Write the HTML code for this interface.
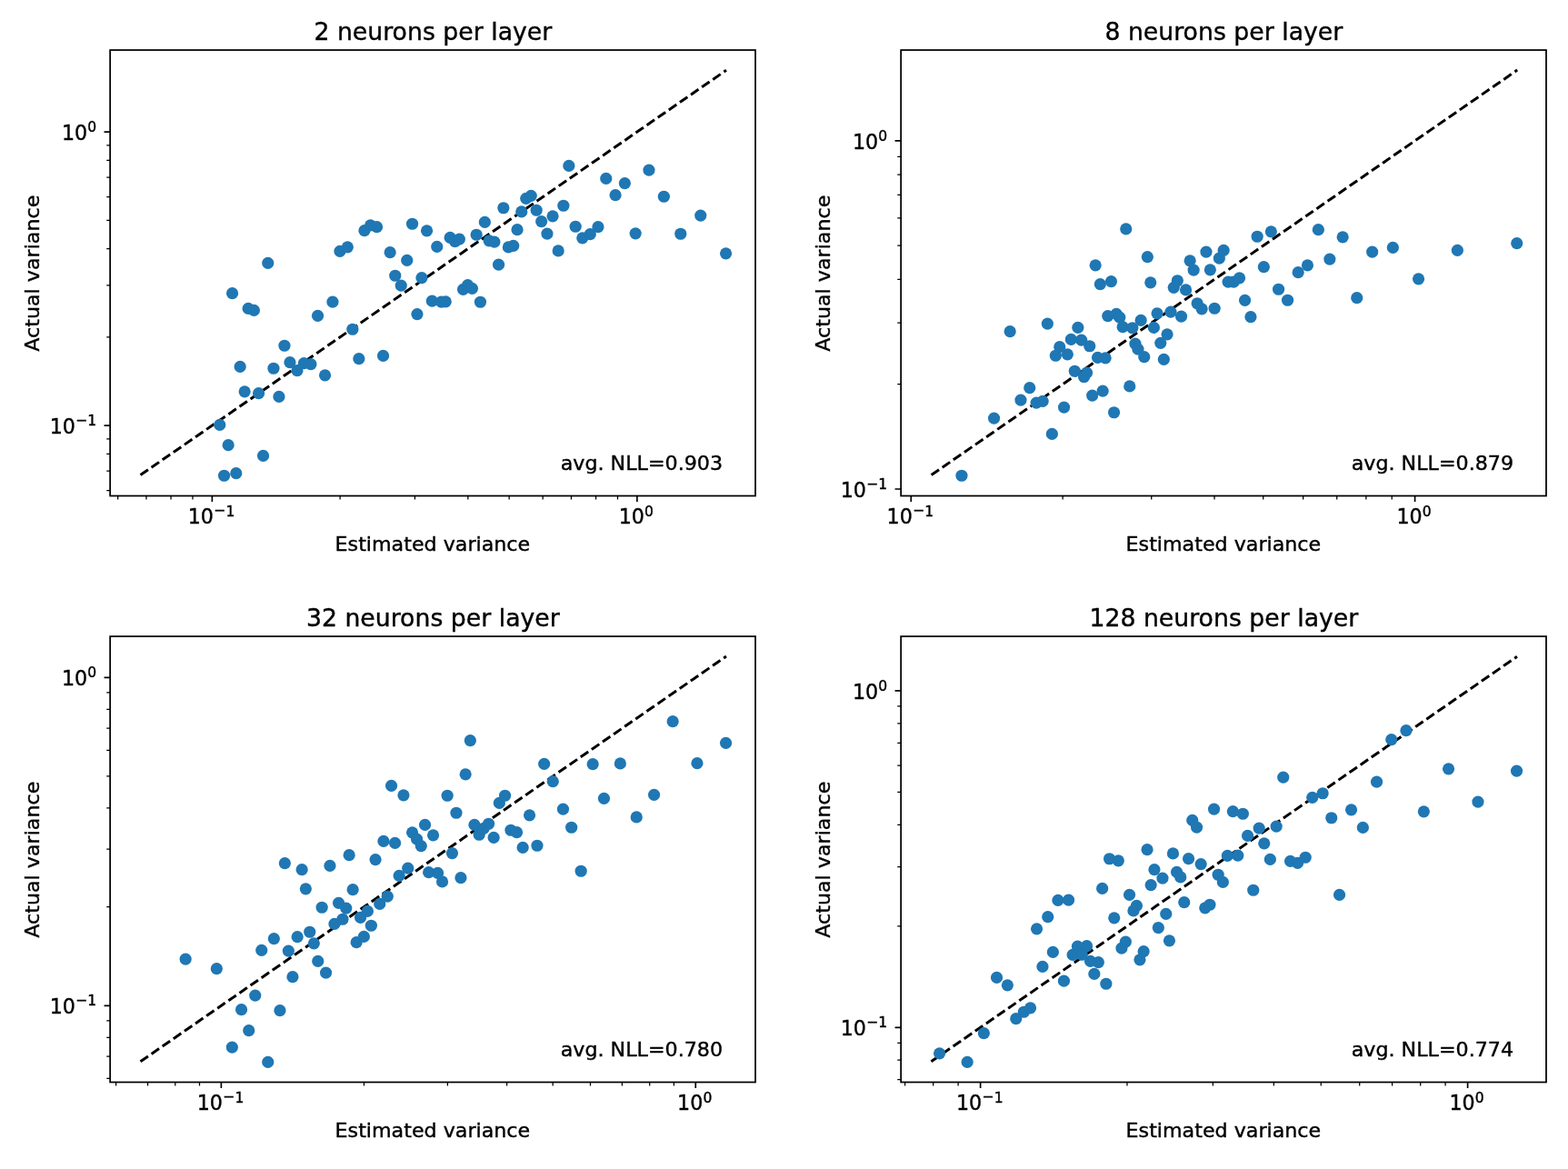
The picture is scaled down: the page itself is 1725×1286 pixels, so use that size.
<!DOCTYPE html>
<html lang="en"><head><meta charset="utf-8"><title>Estimated vs actual variance</title>
<style>
html,body{margin:0;padding:0;background:#fff;}
body{width:1725px;height:1286px;overflow:hidden;}
svg{display:block;position:absolute;left:0;top:0;}
text{font-family:"DejaVu Sans","Liberation Sans",sans-serif;fill:#000;stroke:#000;stroke-width:0.4px;}
.t{font-size:26.67px;letter-spacing:0.03px;}
.l{font-size:22.2px;}
.s{font-size:15.55px;}
.sp{fill:none;stroke:#000;stroke-width:1.75;stroke-linejoin:miter;}
.mj{stroke:#000;stroke-width:1.65;fill:none;}
.mn{stroke:#000;stroke-width:1.25;fill:none;}
.dl{stroke:#000;stroke-width:3;stroke-dasharray:10.28 4.44;fill:none;stroke-linecap:butt;}
.d circle{fill:#1f77b4;}
</style></head><body>
<svg width="1725" height="1286" viewBox="0 0 1725 1286">
<rect x="0" y="0" width="1725" height="1286" fill="#fff"/>
<g id="TL">
<path class="dl" d="M154.5 522.59L799 77.26"/>
<g class="d">
<circle cx="241.75" cy="467.45" r="6.6"/><circle cx="246.55" cy="523.25" r="6.6"/><circle cx="251.15" cy="489.65" r="6.6"/><circle cx="255.55" cy="322.65" r="6.6"/><circle cx="259.75" cy="520.65" r="6.6"/><circle cx="264.15" cy="403.45" r="6.6"/><circle cx="269.15" cy="430.85" r="6.6"/><circle cx="273.15" cy="339.45" r="6.6"/><circle cx="279.35" cy="341.45" r="6.6"/><circle cx="284.55" cy="432.65" r="6.6"/><circle cx="289.55" cy="501.45" r="6.6"/><circle cx="294.75" cy="289.45" r="6.6"/><circle cx="300.95" cy="405.25" r="6.6"/><circle cx="306.95" cy="436.45" r="6.6"/><circle cx="312.95" cy="380.25" r="6.6"/><circle cx="318.95" cy="398.65" r="6.6"/><circle cx="326.95" cy="407.65" r="6.6"/><circle cx="334.35" cy="399.65" r="6.6"/><circle cx="341.95" cy="400.65" r="6.6"/><circle cx="349.55" cy="347.35" r="6.6"/><circle cx="357.55" cy="412.85" r="6.6"/><circle cx="365.95" cy="332.15" r="6.6"/><circle cx="373.95" cy="276.45" r="6.6"/><circle cx="382.35" cy="271.85" r="6.6"/><circle cx="387.85" cy="362.25" r="6.6"/><circle cx="394.85" cy="394.65" r="6.6"/><circle cx="400.95" cy="253.65" r="6.6"/><circle cx="407.55" cy="247.85" r="6.6"/><circle cx="414.55" cy="249.65" r="6.6"/><circle cx="421.55" cy="391.45" r="6.6"/><circle cx="429.15" cy="277.65" r="6.6"/><circle cx="434.75" cy="303.25" r="6.6"/><circle cx="441.25" cy="314.05" r="6.6"/><circle cx="447.75" cy="286.45" r="6.6"/><circle cx="453.55" cy="246.25" r="6.6"/><circle cx="458.95" cy="345.55" r="6.6"/><circle cx="463.95" cy="305.55" r="6.6"/><circle cx="469.55" cy="253.85" r="6.6"/><circle cx="475.35" cy="331.15" r="6.6"/><circle cx="480.75" cy="271.45" r="6.6"/><circle cx="485.55" cy="332.05" r="6.6"/><circle cx="490.25" cy="331.85" r="6.6"/><circle cx="495.15" cy="261.45" r="6.6"/><circle cx="500.55" cy="265.65" r="6.6"/><circle cx="505.35" cy="263.05" r="6.6"/><circle cx="509.55" cy="318.45" r="6.6"/><circle cx="514.55" cy="313.65" r="6.6"/><circle cx="519.45" cy="317.35" r="6.6"/><circle cx="524.15" cy="258.25" r="6.6"/><circle cx="528.45" cy="332.25" r="6.6"/><circle cx="533.35" cy="244.45" r="6.6"/><circle cx="538.15" cy="264.85" r="6.6"/><circle cx="543.85" cy="266.15" r="6.6"/><circle cx="548.55" cy="291.15" r="6.6"/><circle cx="553.85" cy="228.75" r="6.6"/><circle cx="559.35" cy="271.95" r="6.6"/><circle cx="564.75" cy="270.35" r="6.6"/><circle cx="569.05" cy="252.65" r="6.6"/><circle cx="573.75" cy="232.95" r="6.6"/><circle cx="578.75" cy="218.35" r="6.6"/><circle cx="584.25" cy="215.35" r="6.6"/><circle cx="590.15" cy="231.25" r="6.6"/><circle cx="595.65" cy="243.55" r="6.6"/><circle cx="601.95" cy="257.05" r="6.6"/><circle cx="608.05" cy="237.85" r="6.6"/><circle cx="614.15" cy="275.95" r="6.6"/><circle cx="619.85" cy="226.25" r="6.6"/><circle cx="625.85" cy="182.45" r="6.6"/><circle cx="633.15" cy="249.25" r="6.6"/><circle cx="640.75" cy="261.85" r="6.6"/><circle cx="649.25" cy="257.65" r="6.6"/><circle cx="657.95" cy="249.65" r="6.6"/><circle cx="666.75" cy="196.45" r="6.6"/><circle cx="677.05" cy="214.65" r="6.6"/><circle cx="687.35" cy="201.65" r="6.6"/><circle cx="699.15" cy="256.85" r="6.6"/><circle cx="713.95" cy="187.05" r="6.6"/><circle cx="730.35" cy="216.25" r="6.6"/><circle cx="748.75" cy="257.25" r="6.6"/><circle cx="770.75" cy="237.05" r="6.6"/><circle cx="798.55" cy="278.85" r="6.6"/>
</g>
<path class="mj" d="M233.37 545.5v6.6M700.87 545.5v6.6M121.15 468.05h-6.6M121.15 145.05h-6.6"/>
<path class="mn" d="M129.66 545.5v3.9M160.95 545.5v3.9M188.06 545.5v3.9M211.98 545.5v3.9M374.1 545.5v3.9M456.42 545.5v3.9M514.83 545.5v3.9M560.14 545.5v3.9M597.16 545.5v3.9M628.45 545.5v3.9M655.56 545.5v3.9M679.48 545.5v3.9M121.15 539.71h-3.9M121.15 518.08h-3.9M121.15 499.35h-3.9M121.15 482.83h-3.9M121.15 370.82h-3.9M121.15 313.94h-3.9M121.15 273.58h-3.9M121.15 242.28h-3.9M121.15 216.71h-3.9M121.15 195.08h-3.9M121.15 176.35h-3.9M121.15 159.83h-3.9"/>
<rect class="sp" x="121.15" y="55.07" width="709.85" height="490.43"/>
<text class="l" transform="translate(206.72 575.8) scale(1 1.02)">10</text><text class="s" transform="translate(235.36 567.6) scale(1 1.05)"><tspan dy="-0.25">−</tspan><tspan dy="0.25">1</tspan></text>
<text class="l" transform="translate(680.72 575.8) scale(1 1.02)">10</text><text class="s" transform="translate(709.06 567.6) scale(1 1.05)">0</text>
<text class="l" transform="translate(54.7 476.7) scale(1 1.02)">10</text><text class="s" transform="translate(83.34 468.05) scale(1 1.05)"><tspan dy="-0.25">−</tspan><tspan dy="0.25">1</tspan></text>
<text class="l" transform="translate(67.9 153.7) scale(1 1.02)">10</text><text class="s" transform="translate(96.24 145.05) scale(1 1.05)">0</text>
<text class="t" transform="translate(476.32 44.32) scale(1 0.985)" text-anchor="middle">2 neurons per layer</text>
<text class="l" transform="translate(475.88 605.65) scale(1 0.99)" text-anchor="middle">Estimated variance</text>
<text class="l" transform="translate(42.6 300.69) rotate(-90) scale(1 0.99)" text-anchor="middle">Actual variance</text>
<text class="l" transform="translate(795.06 517) scale(1 0.99)" text-anchor="end">avg. NLL=0.903</text>
</g>
<g id="TR">
<path class="dl" d="M1024.6 522.59L1669.2 77.09"/>
<g class="d">
<circle cx="1057.95" cy="523.25" r="6.6"/><circle cx="1093.55" cy="460.05" r="6.6"/><circle cx="1111.15" cy="364.65" r="6.6"/><circle cx="1122.95" cy="440.05" r="6.6"/><circle cx="1132.75" cy="426.65" r="6.6"/><circle cx="1140.15" cy="443.05" r="6.6"/><circle cx="1147.15" cy="441.45" r="6.6"/><circle cx="1152.35" cy="356.05" r="6.6"/><circle cx="1157.35" cy="477.45" r="6.6"/><circle cx="1161.35" cy="391.25" r="6.6"/><circle cx="1165.75" cy="381.65" r="6.6"/><circle cx="1170.55" cy="448.05" r="6.6"/><circle cx="1174.35" cy="389.85" r="6.6"/><circle cx="1178.35" cy="373.45" r="6.6"/><circle cx="1182.35" cy="408.25" r="6.6"/><circle cx="1185.85" cy="360.35" r="6.6"/><circle cx="1189.65" cy="374.15" r="6.6"/><circle cx="1192.55" cy="414.65" r="6.6"/><circle cx="1195.55" cy="410.05" r="6.6"/><circle cx="1198.75" cy="380.75" r="6.6"/><circle cx="1201.65" cy="435.05" r="6.6"/><circle cx="1205.15" cy="291.85" r="6.6"/><circle cx="1207.55" cy="393.35" r="6.6"/><circle cx="1210.35" cy="312.65" r="6.6"/><circle cx="1213.15" cy="430.05" r="6.6"/><circle cx="1216.15" cy="393.85" r="6.6"/><circle cx="1218.75" cy="347.55" r="6.6"/><circle cx="1222.45" cy="309.55" r="6.6"/><circle cx="1225.55" cy="453.75" r="6.6"/><circle cx="1228.15" cy="345.45" r="6.6"/><circle cx="1231.75" cy="349.15" r="6.6"/><circle cx="1235.15" cy="359.65" r="6.6"/><circle cx="1238.75" cy="251.85" r="6.6"/><circle cx="1242.75" cy="424.95" r="6.6"/><circle cx="1245.85" cy="360.75" r="6.6"/><circle cx="1248.95" cy="378.15" r="6.6"/><circle cx="1251.95" cy="384.15" r="6.6"/><circle cx="1255.15" cy="352.45" r="6.6"/><circle cx="1258.75" cy="392.65" r="6.6"/><circle cx="1262.35" cy="282.65" r="6.6"/><circle cx="1265.75" cy="310.85" r="6.6"/><circle cx="1269.35" cy="360.45" r="6.6"/><circle cx="1273.05" cy="344.85" r="6.6"/><circle cx="1276.75" cy="377.35" r="6.6"/><circle cx="1280.35" cy="395.35" r="6.6"/><circle cx="1284.05" cy="367.85" r="6.6"/><circle cx="1287.95" cy="343.05" r="6.6"/><circle cx="1291.25" cy="316.35" r="6.6"/><circle cx="1295.35" cy="308.75" r="6.6"/><circle cx="1299.55" cy="348.05" r="6.6"/><circle cx="1304.55" cy="318.95" r="6.6"/><circle cx="1309.15" cy="286.85" r="6.6"/><circle cx="1313.15" cy="297.05" r="6.6"/><circle cx="1317.15" cy="333.75" r="6.6"/><circle cx="1322.15" cy="339.85" r="6.6"/><circle cx="1326.95" cy="277.05" r="6.6"/><circle cx="1331.35" cy="296.85" r="6.6"/><circle cx="1336.15" cy="339.25" r="6.6"/><circle cx="1341.35" cy="284.05" r="6.6"/><circle cx="1346.15" cy="275.45" r="6.6"/><circle cx="1351.15" cy="310.15" r="6.6"/><circle cx="1357.15" cy="310.15" r="6.6"/><circle cx="1363.55" cy="305.85" r="6.6"/><circle cx="1369.55" cy="330.35" r="6.6"/><circle cx="1375.95" cy="348.65" r="6.6"/><circle cx="1383.15" cy="260.25" r="6.6"/><circle cx="1390.35" cy="293.65" r="6.6"/><circle cx="1398.35" cy="254.85" r="6.6"/><circle cx="1406.55" cy="318.25" r="6.6"/><circle cx="1416.55" cy="330.25" r="6.6"/><circle cx="1428.15" cy="299.65" r="6.6"/><circle cx="1438.45" cy="291.85" r="6.6"/><circle cx="1450.35" cy="252.65" r="6.6"/><circle cx="1462.85" cy="285.05" r="6.6"/><circle cx="1477.15" cy="260.85" r="6.6"/><circle cx="1492.75" cy="327.65" r="6.6"/><circle cx="1509.65" cy="277.05" r="6.6"/><circle cx="1532.35" cy="272.45" r="6.6"/><circle cx="1560.55" cy="306.85" r="6.6"/><circle cx="1603.35" cy="275.45" r="6.6"/><circle cx="1668.75" cy="267.65" r="6.6"/>
</g>
<path class="mj" d="M1002.25 545.5v6.6M1556.6 545.5v6.6M991.15 538.02h-6.6M991.15 154.92h-6.6"/>
<path class="mn" d="M1169.13 545.5v3.9M1266.74 545.5v3.9M1336 545.5v3.9M1389.72 545.5v3.9M1433.62 545.5v3.9M1470.73 545.5v3.9M1502.88 545.5v3.9M1531.23 545.5v3.9M991.15 422.7h-3.9M991.15 355.23h-3.9M991.15 307.37h-3.9M991.15 270.24h-3.9M991.15 239.91h-3.9M991.15 214.26h-3.9M991.15 192.05h-3.9M991.15 172.45h-3.9"/>
<rect class="sp" x="991.15" y="55.07" width="709.85" height="490.43"/>
<text class="l" transform="translate(975.6 575.8) scale(1 1.02)">10</text><text class="s" transform="translate(1004.24 567.6) scale(1 1.05)"><tspan dy="-0.25">−</tspan><tspan dy="0.25">1</tspan></text>
<text class="l" transform="translate(1536.45 575.8) scale(1 1.02)">10</text><text class="s" transform="translate(1564.79 567.6) scale(1 1.05)">0</text>
<text class="l" transform="translate(924.7 546.67) scale(1 1.02)">10</text><text class="s" transform="translate(953.34 538.02) scale(1 1.05)"><tspan dy="-0.25">−</tspan><tspan dy="0.25">1</tspan></text>
<text class="l" transform="translate(937.9 163.57) scale(1 1.02)">10</text><text class="s" transform="translate(966.24 154.92) scale(1 1.05)">0</text>
<text class="t" transform="translate(1346.33 44.32) scale(1 0.985)" text-anchor="middle">8 neurons per layer</text>
<text class="l" transform="translate(1345.88 605.65) scale(1 0.99)" text-anchor="middle">Estimated variance</text>
<text class="l" transform="translate(912.6 300.69) rotate(-90) scale(1 0.99)" text-anchor="middle">Actual variance</text>
<text class="l" transform="translate(1665.06 517) scale(1 0.99)" text-anchor="end">avg. NLL=0.879</text>
</g>
<g id="BL">
<path class="dl" d="M154.5 1167.79L799 721.99"/>
<g class="d">
<circle cx="204.15" cy="1055.05" r="6.6"/><circle cx="238.35" cy="1065.65" r="6.6"/><circle cx="255.35" cy="1152.05" r="6.6"/><circle cx="265.55" cy="1110.65" r="6.6"/><circle cx="273.75" cy="1133.65" r="6.6"/><circle cx="280.75" cy="1095.05" r="6.6"/><circle cx="287.75" cy="1045.45" r="6.6"/><circle cx="294.75" cy="1168.45" r="6.6"/><circle cx="301.35" cy="1032.65" r="6.6"/><circle cx="307.95" cy="1111.65" r="6.6"/><circle cx="313.35" cy="949.65" r="6.6"/><circle cx="317.35" cy="1046.05" r="6.6"/><circle cx="321.95" cy="1074.65" r="6.6"/><circle cx="327.15" cy="1030.65" r="6.6"/><circle cx="332.15" cy="956.65" r="6.6"/><circle cx="336.35" cy="977.85" r="6.6"/><circle cx="340.75" cy="1025.25" r="6.6"/><circle cx="345.35" cy="1037.85" r="6.6"/><circle cx="349.75" cy="1057.45" r="6.6"/><circle cx="354.15" cy="998.25" r="6.6"/><circle cx="358.55" cy="1070.05" r="6.6"/><circle cx="362.95" cy="952.45" r="6.6"/><circle cx="367.95" cy="1016.45" r="6.6"/><circle cx="372.55" cy="993.45" r="6.6"/><circle cx="376.95" cy="1011.25" r="6.6"/><circle cx="380.75" cy="999.05" r="6.6"/><circle cx="384.15" cy="940.65" r="6.6"/><circle cx="388.15" cy="978.65" r="6.6"/><circle cx="392.15" cy="1036.65" r="6.6"/><circle cx="396.55" cy="1009.45" r="6.6"/><circle cx="400.35" cy="1030.45" r="6.6"/><circle cx="404.35" cy="1002.45" r="6.6"/><circle cx="408.35" cy="1018.25" r="6.6"/><circle cx="413.05" cy="945.55" r="6.6"/><circle cx="417.75" cy="994.45" r="6.6"/><circle cx="421.95" cy="925.45" r="6.6"/><circle cx="426.25" cy="986.15" r="6.6"/><circle cx="430.55" cy="864.45" r="6.6"/><circle cx="434.55" cy="927.45" r="6.6"/><circle cx="439.15" cy="963.35" r="6.6"/><circle cx="443.95" cy="874.85" r="6.6"/><circle cx="448.75" cy="955.15" r="6.6"/><circle cx="453.55" cy="915.85" r="6.6"/><circle cx="458.55" cy="923.05" r="6.6"/><circle cx="463.25" cy="930.55" r="6.6"/><circle cx="467.55" cy="907.45" r="6.6"/><circle cx="471.65" cy="959.65" r="6.6"/><circle cx="476.55" cy="918.85" r="6.6"/><circle cx="481.55" cy="960.45" r="6.6"/><circle cx="486.55" cy="969.95" r="6.6"/><circle cx="492.15" cy="875.25" r="6.6"/><circle cx="497.45" cy="938.55" r="6.6"/><circle cx="501.95" cy="894.25" r="6.6"/><circle cx="506.95" cy="965.65" r="6.6"/><circle cx="512.15" cy="851.85" r="6.6"/><circle cx="517.35" cy="814.65" r="6.6"/><circle cx="521.95" cy="907.45" r="6.6"/><circle cx="527.15" cy="918.25" r="6.6"/><circle cx="532.15" cy="911.25" r="6.6"/><circle cx="537.55" cy="906.25" r="6.6"/><circle cx="543.15" cy="921.45" r="6.6"/><circle cx="549.35" cy="883.45" r="6.6"/><circle cx="555.55" cy="875.25" r="6.6"/><circle cx="561.95" cy="913.25" r="6.6"/><circle cx="568.55" cy="915.65" r="6.6"/><circle cx="575.15" cy="932.45" r="6.6"/><circle cx="582.55" cy="896.85" r="6.6"/><circle cx="590.95" cy="930.25" r="6.6"/><circle cx="598.65" cy="840.35" r="6.6"/><circle cx="608.25" cy="859.65" r="6.6"/><circle cx="619.45" cy="890.05" r="6.6"/><circle cx="628.65" cy="910.25" r="6.6"/><circle cx="639.15" cy="958.25" r="6.6"/><circle cx="652.15" cy="840.65" r="6.6"/><circle cx="664.45" cy="878.45" r="6.6"/><circle cx="682.35" cy="839.95" r="6.6"/><circle cx="700.25" cy="898.95" r="6.6"/><circle cx="719.55" cy="874.35" r="6.6"/><circle cx="740.15" cy="793.65" r="6.6"/><circle cx="766.95" cy="839.65" r="6.6"/><circle cx="798.55" cy="817.45" r="6.6"/>
</g>
<path class="mj" d="M243.37 1190.5v6.6M765.27 1190.5v6.6M121.15 1106.3h-6.6M121.15 745.3h-6.6"/>
<path class="mn" d="M127.59 1190.5v3.9M162.53 1190.5v3.9M192.79 1190.5v3.9M219.49 1190.5v3.9M400.48 1190.5v3.9M492.38 1190.5v3.9M557.59 1190.5v3.9M608.16 1190.5v3.9M649.49 1190.5v3.9M684.43 1190.5v3.9M714.69 1190.5v3.9M741.39 1190.5v3.9M121.15 1186.39h-3.9M121.15 1162.22h-3.9M121.15 1141.28h-3.9M121.15 1122.82h-3.9M121.15 997.63h-3.9M121.15 934.06h-3.9M121.15 888.96h-3.9M121.15 853.97h-3.9M121.15 825.39h-3.9M121.15 801.22h-3.9M121.15 780.28h-3.9M121.15 761.82h-3.9"/>
<rect class="sp" x="121.15" y="700.06" width="709.85" height="490.44"/>
<text class="l" transform="translate(216.72 1220.8) scale(1 1.02)">10</text><text class="s" transform="translate(245.36 1212.6) scale(1 1.05)"><tspan dy="-0.25">−</tspan><tspan dy="0.25">1</tspan></text>
<text class="l" transform="translate(745.12 1220.8) scale(1 1.02)">10</text><text class="s" transform="translate(773.46 1212.6) scale(1 1.05)">0</text>
<text class="l" transform="translate(54.7 1114.95) scale(1 1.02)">10</text><text class="s" transform="translate(83.34 1106.3) scale(1 1.05)"><tspan dy="-0.25">−</tspan><tspan dy="0.25">1</tspan></text>
<text class="l" transform="translate(67.9 753.95) scale(1 1.02)">10</text><text class="s" transform="translate(96.24 745.3) scale(1 1.05)">0</text>
<text class="t" transform="translate(476.32 689.31) scale(1 0.985)" text-anchor="middle">32 neurons per layer</text>
<text class="l" transform="translate(475.88 1250.65) scale(1 0.99)" text-anchor="middle">Estimated variance</text>
<text class="l" transform="translate(42.6 945.68) rotate(-90) scale(1 0.99)" text-anchor="middle">Actual variance</text>
<text class="l" transform="translate(795.06 1162) scale(1 0.99)" text-anchor="end">avg. NLL=0.780</text>
</g>
<g id="BR">
<path class="dl" d="M1024.4 1167.79L1669 722.29"/>
<g class="d">
<circle cx="1033.55" cy="1158.85" r="6.6"/><circle cx="1064.15" cy="1168.45" r="6.6"/><circle cx="1082.35" cy="1136.65" r="6.6"/><circle cx="1096.55" cy="1075.45" r="6.6"/><circle cx="1108.35" cy="1083.85" r="6.6"/><circle cx="1117.75" cy="1120.65" r="6.6"/><circle cx="1126.35" cy="1113.25" r="6.6"/><circle cx="1133.55" cy="1108.85" r="6.6"/><circle cx="1140.55" cy="1021.85" r="6.6"/><circle cx="1146.95" cy="1063.45" r="6.6"/><circle cx="1152.75" cy="1008.65" r="6.6"/><circle cx="1158.35" cy="1047.45" r="6.6"/><circle cx="1163.95" cy="990.45" r="6.6"/><circle cx="1170.45" cy="1079.15" r="6.6"/><circle cx="1175.55" cy="990.05" r="6.6"/><circle cx="1180.15" cy="1050.45" r="6.6"/><circle cx="1185.45" cy="1041.15" r="6.6"/><circle cx="1190.15" cy="1050.25" r="6.6"/><circle cx="1195.55" cy="1040.65" r="6.6"/><circle cx="1199.55" cy="1057.45" r="6.6"/><circle cx="1203.85" cy="1071.45" r="6.6"/><circle cx="1208.35" cy="1058.65" r="6.6"/><circle cx="1212.65" cy="977.45" r="6.6"/><circle cx="1216.85" cy="1082.25" r="6.6"/><circle cx="1220.55" cy="944.75" r="6.6"/><circle cx="1225.75" cy="1009.85" r="6.6"/><circle cx="1230.35" cy="946.85" r="6.6"/><circle cx="1233.95" cy="1043.05" r="6.6"/><circle cx="1238.35" cy="1036.05" r="6.6"/><circle cx="1242.55" cy="984.35" r="6.6"/><circle cx="1246.95" cy="1001.95" r="6.6"/><circle cx="1250.45" cy="996.35" r="6.6"/><circle cx="1253.95" cy="1055.85" r="6.6"/><circle cx="1258.15" cy="1046.65" r="6.6"/><circle cx="1262.05" cy="934.65" r="6.6"/><circle cx="1266.15" cy="973.55" r="6.6"/><circle cx="1269.95" cy="956.65" r="6.6"/><circle cx="1274.35" cy="1020.55" r="6.6"/><circle cx="1278.95" cy="966.05" r="6.6"/><circle cx="1282.75" cy="1005.45" r="6.6"/><circle cx="1286.45" cy="1034.85" r="6.6"/><circle cx="1290.45" cy="938.95" r="6.6"/><circle cx="1294.55" cy="959.45" r="6.6"/><circle cx="1298.75" cy="964.95" r="6.6"/><circle cx="1302.75" cy="992.65" r="6.6"/><circle cx="1307.55" cy="944.65" r="6.6"/><circle cx="1311.75" cy="902.45" r="6.6"/><circle cx="1316.55" cy="910.05" r="6.6"/><circle cx="1321.15" cy="950.55" r="6.6"/><circle cx="1325.75" cy="998.85" r="6.6"/><circle cx="1330.95" cy="995.25" r="6.6"/><circle cx="1335.55" cy="890.05" r="6.6"/><circle cx="1340.15" cy="962.25" r="6.6"/><circle cx="1345.35" cy="970.45" r="6.6"/><circle cx="1350.35" cy="941.45" r="6.6"/><circle cx="1356.35" cy="892.65" r="6.6"/><circle cx="1361.75" cy="941.05" r="6.6"/><circle cx="1367.35" cy="895.25" r="6.6"/><circle cx="1372.55" cy="919.45" r="6.6"/><circle cx="1378.75" cy="979.25" r="6.6"/><circle cx="1385.15" cy="911.05" r="6.6"/><circle cx="1390.75" cy="927.85" r="6.6"/><circle cx="1397.35" cy="945.45" r="6.6"/><circle cx="1404.15" cy="909.05" r="6.6"/><circle cx="1411.75" cy="855.05" r="6.6"/><circle cx="1419.55" cy="947.45" r="6.6"/><circle cx="1427.55" cy="949.45" r="6.6"/><circle cx="1436.15" cy="943.25" r="6.6"/><circle cx="1443.75" cy="877.35" r="6.6"/><circle cx="1455.15" cy="872.75" r="6.6"/><circle cx="1464.75" cy="899.75" r="6.6"/><circle cx="1473.55" cy="984.45" r="6.6"/><circle cx="1486.55" cy="890.85" r="6.6"/><circle cx="1499.35" cy="910.45" r="6.6"/><circle cx="1514.55" cy="860.15" r="6.6"/><circle cx="1530.75" cy="813.65" r="6.6"/><circle cx="1546.95" cy="803.65" r="6.6"/><circle cx="1566.35" cy="892.85" r="6.6"/><circle cx="1593.55" cy="845.85" r="6.6"/><circle cx="1625.95" cy="882.05" r="6.6"/><circle cx="1668.55" cy="848.05" r="6.6"/>
</g>
<path class="mj" d="M1078.62 1190.5v6.6M1614.62 1190.5v6.6M991.15 1130.3h-6.6M991.15 759.9h-6.6"/>
<path class="mn" d="M995.59 1190.5v3.9M1026.68 1190.5v3.9M1054.09 1190.5v3.9M1239.97 1190.5v3.9M1334.36 1190.5v3.9M1401.32 1190.5v3.9M1453.27 1190.5v3.9M1495.71 1190.5v3.9M1531.59 1190.5v3.9M1562.68 1190.5v3.9M1590.09 1190.5v3.9M991.15 1187.68h-3.9M991.15 1166.2h-3.9M991.15 1147.25h-3.9M991.15 1018.8h-3.9M991.15 953.57h-3.9M991.15 907.3h-3.9M991.15 871.4h-3.9M991.15 842.07h-3.9M991.15 817.28h-3.9M991.15 795.8h-3.9M991.15 776.85h-3.9"/>
<rect class="sp" x="991.15" y="700.06" width="709.85" height="490.44"/>
<text class="l" transform="translate(1051.97 1220.8) scale(1 1.02)">10</text><text class="s" transform="translate(1080.61 1212.6) scale(1 1.05)"><tspan dy="-0.25">−</tspan><tspan dy="0.25">1</tspan></text>
<text class="l" transform="translate(1594.47 1220.8) scale(1 1.02)">10</text><text class="s" transform="translate(1622.81 1212.6) scale(1 1.05)">0</text>
<text class="l" transform="translate(924.7 1138.95) scale(1 1.02)">10</text><text class="s" transform="translate(953.34 1130.3) scale(1 1.05)"><tspan dy="-0.25">−</tspan><tspan dy="0.25">1</tspan></text>
<text class="l" transform="translate(937.9 768.55) scale(1 1.02)">10</text><text class="s" transform="translate(966.24 759.9) scale(1 1.05)">0</text>
<text class="t" transform="translate(1346.33 689.31) scale(1 0.985)" text-anchor="middle">128 neurons per layer</text>
<text class="l" transform="translate(1345.88 1250.65) scale(1 0.99)" text-anchor="middle">Estimated variance</text>
<text class="l" transform="translate(912.6 945.68) rotate(-90) scale(1 0.99)" text-anchor="middle">Actual variance</text>
<text class="l" transform="translate(1665.06 1162) scale(1 0.99)" text-anchor="end">avg. NLL=0.774</text>
</g>
</svg>
</body></html>
